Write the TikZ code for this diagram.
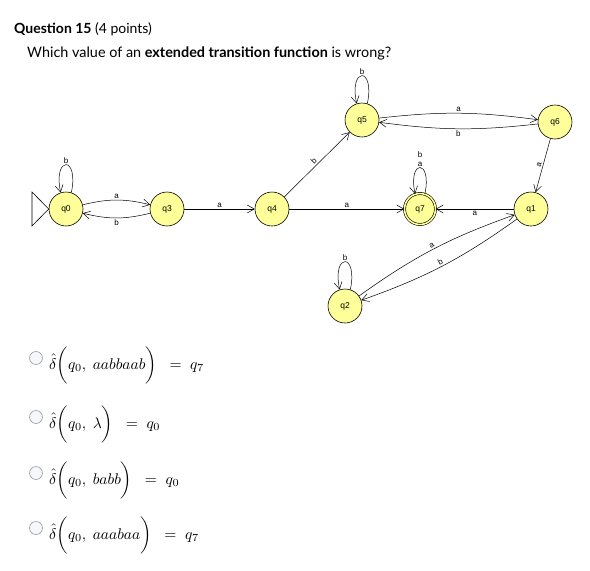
\documentclass[tikz,border=0pt]{standalone}
\usepackage{graphicx}
\usepackage[no-math]{fontspec}
\setmainfont{Lato}
\newfontfamily\diagfont{Liberation Sans}
\usetikzlibrary{arrows.meta}
\definecolor{statefill}{RGB}{255,255,153}
\definecolor{radiodraw}{RGB}{150,156,170}
\definecolor{radiofill}{RGB}{246,247,250}
\newcommand{\bigpar}[1]{\left(\vrule height 10pt depth 8pt width 0pt #1\right)}
\newcommand{\fml}[2]{\scalebox{1.55}{\fontsize{10}{12}\selectfont$\hat{\delta}\!\bigpar{q_0,\ #1}\ \;=\;q_{#2}$}}
\tikzset{
  state/.style={circle, draw=black, line width=0.6pt, fill=statefill, minimum size=34pt, inner sep=0pt, font=\diagfont\fontsize{8.5}{9}\selectfont},
  accstate/.style={state, double=statefill, double distance=1.6pt, minimum size=31pt},
  edge/.style={draw=black, line width=0.5pt, -{Straight Barb[length=7pt,width=8pt,line width=0.5pt]}},
  lbl/.style={auto, font=\diagfont\fontsize{8}{8}\selectfont, inner sep=1.5pt},
  looplbl/.style={font=\diagfont\fontsize{8}{8}\selectfont, inner sep=1pt, anchor=south},
  radio/.style={circle, draw=radiodraw, fill=radiofill, line width=0.6pt, minimum size=13pt, inner sep=0pt},
  formula/.style={anchor=base west, inner sep=0pt},
  txt/.style={anchor=base west, inner sep=0pt, font=\fontsize{14}{16}\selectfont}
}
\begin{document}
\begin{tikzpicture}[x=1pt,y=1pt]
\useasboundingbox (0,0) rectangle (590,-571);
% texts
\node[txt] (title) at (14,-33) {\textbf{Question 15} (4 points)};
\node[txt, font=\fontsize{14.4}{16}\selectfont] (question) at (27,-57) {Which value of an \textbf{extended transition function} is wrong?};
% states
\node[state] (q0) at (66,-209) {q0};
\node[state] (q3) at (167,-209) {q3};
\node[state] (q4) at (272,-209) {q4};
\node[state] (q5) at (362,-120) {q5};
\node[state] (q6) at (555,-122) {q6};
\node[accstate] (q7) at (420,-209) {q7};
\node[state] (q1) at (531,-209) {q1};
\node[state] (q2) at (345,-306) {q2};
% initial marker
\coordinate (it) at (32,-192);
\coordinate (ib) at (32,-226);
\draw[line width=0.6pt] (it) -- (q0.west) -- (ib) -- cycle;
% loops
\draw[edge] (q0.72) .. controls +(78:38) and +(102:38) .. (q0.108) node[pos=0.5, looplbl] {b};
\draw[edge] (q5.72) .. controls +(78:38) and +(102:38) .. (q5.108) node[pos=0.5, looplbl] {b};
\draw[edge] (q2.72) .. controls +(78:38) and +(102:38) .. (q2.108) node[pos=0.5, looplbl] {b};
\draw[edge] (q7.72) .. controls +(78:36) and +(102:36) .. (q7.108) node[pos=0.5, looplbl] (q7a) {a};
\node[looplbl, anchor=south] (q7b) at ([yshift=2pt]q7a.north) {b};
% transitions
\draw[edge] (q0) to[bend left=14] node[lbl] {a} (q3);
\draw[edge] (q3) to[bend left=14] node[lbl] {b} (q0);
\draw[edge] (q3) -- node[lbl] {a} (q4);
\draw[edge] (q4) -- node[lbl, sloped] {b} (q5);
\draw[edge] (q4) -- node[lbl] {a} (q7);
\draw[edge] (q5) to[bend left=7] node[lbl] {a} (q6);
\draw[edge] (q6) to[bend left=7] node[lbl] {b} (q5);
\draw[edge] (q6) -- node[lbl, sloped] {a} (q1);
\draw[edge] (q1) -- node[lbl] {a} (q7);
\draw[edge] (q2) to[bend left=8] node[lbl, sloped] {a} (q1);
\draw[edge] (q1) to[bend left=8] node[lbl, sloped] {b} (q2);
% answers
\node[radio] (r1) at (36,-358) {};
\node[formula] (f1) at (49,-369) {\fml{aabbaab}{7}};
\node[radio] (r2) at (36,-417) {};
\node[formula] (f2) at (49,-428) {\fml{\lambda}{0}};
\node[radio] (r3) at (36,-473) {};
\node[formula] (f3) at (49,-484) {\fml{babb}{0}};
\node[radio] (r4) at (36,-528) {};
\node[formula] (f4) at (49,-539) {\fml{aaabaa}{7}};
\end{tikzpicture}
\end{document}
